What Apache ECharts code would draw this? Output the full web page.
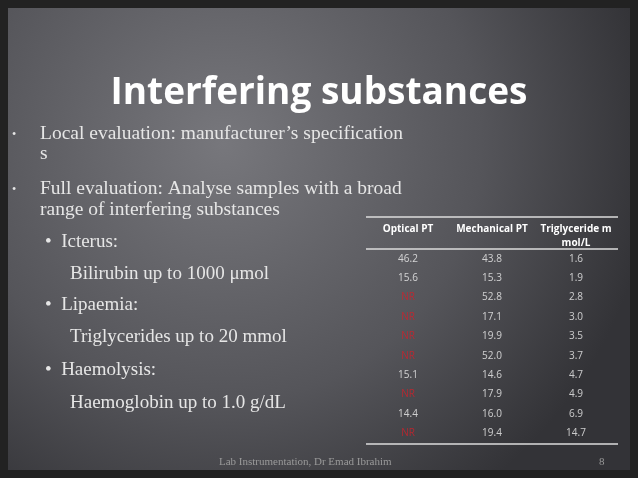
<!DOCTYPE html><html><head><meta charset="utf-8"><script src="https://cdn.jsdelivr.net/npm/echarts@6/dist/echarts.min.js"></script>
<style>html,body{margin:0;padding:0;background:#333}#c{width:638px;height:478px}</style></head><body><div id="c"></div><script>
const columns=['Optical PT','Mechanical PT','Triglyceride m\nmol/L'];
const opticalPT=['46.2','15.6','NR','NR','NR','NR','15.1','NR','14.4','NR'];
const mechanicalPT=['43.8','15.3','52.8','17.1','19.9','52.0','14.6','17.9','16.0','19.4'];
const triglyceride=['1.6','1.9','2.8','3.0','3.5','3.7','4.7','4.9','6.9','14.7'];
const rows=opticalPT.map((_,i)=>String(i));
const cols=[opticalPT,mechanicalPT,triglyceride];
const data=[];
cols.forEach((arr,c)=>arr.forEach((v,r)=>data.push({value:[c,r],label:{formatter:v,color:v==='NR'?'#d0202a':'#f0f0f0'}})));
const chart=echarts.init(document.getElementById('c'));
const serif='"Liberation Serif","DejaVu Serif",serif';
function t(x,y,s,size){return {type:'text',left:x,top:y,style:{text:s,fill:'#e6e6e6',font:size+'px '+serif}};}
chart.setOption({
 backgroundColor:{type:'radial',x:0.35,y:0.3,r:0.9,colorStops:[{offset:0,color:'#77777c'},{offset:0.6,color:'#55555a'},{offset:1,color:'#333337'}]},
 grid:{left:366,width:252,top:249,height:194},
 xAxis:{type:'category',data:columns,position:'top',axisLine:{show:false},axisTick:{show:false},
  axisLabel:{interval:0,color:'#fff',fontSize:10,fontWeight:'bold',fontFamily:'"Open Sans",sans-serif',margin:27,lineHeight:14,verticalAlign:'top',align:'center'}},
 yAxis:{type:'category',data:rows,inverse:true,show:false},
 series:[{type:'scatter',symbolSize:0,data:data,silent:true,
  label:{show:true,position:'inside',fontSize:10,fontFamily:'"Open Sans",sans-serif'}}],
 graphic:[
  {type:'rect',shape:{x:4,y:4,width:630,height:470},style:{fill:'none',stroke:'#222',lineWidth:8}},
  {type:'text',left:'center',top:75,style:{text:'Interfering substances',fill:'#fff',font:'bold 37px "Open Sans",sans-serif'}},
  {type:'line',shape:{x1:366,y1:217,x2:618,y2:217},style:{stroke:'#ddd',lineWidth:1.5}},
  {type:'line',shape:{x1:366,y1:249,x2:618,y2:249},style:{stroke:'#ddd',lineWidth:1.5}},
  {type:'line',shape:{x1:366,y1:444,x2:618,y2:444},style:{stroke:'#ddd',lineWidth:1.5}},
  t(12,129,'•',12),t(40,124,'Local evaluation: manufacturer’s specification',19.5),t(40,144,'s',19.5),
  t(12,184,'•',12),t(40,179,'Full evaluation: Analyse samples with a broad',19.5),t(40,200,'range of interfering substances',19.5),
  t(45,233,'•  Icterus:',19),t(70,265,'Bilirubin up to 1000 μmol',19),
  t(45,296,'•  Lipaemia:',19),t(70,328,'Triglycerides up to 20 mmol',19),
  t(45,361,'•  Haemolysis:',19),t(70,394,'Haemoglobin up to 1.0 g/dL',19),
  {type:'text',left:219,top:457,style:{text:'Lab Instrumentation, Dr Emad Ibrahim',fill:'#9a9a9a',font:'11px '+serif}},
  {type:'text',left:599,top:457,style:{text:'8',fill:'#9a9a9a',font:'11px '+serif}}
 ]
});
</script></body></html>
